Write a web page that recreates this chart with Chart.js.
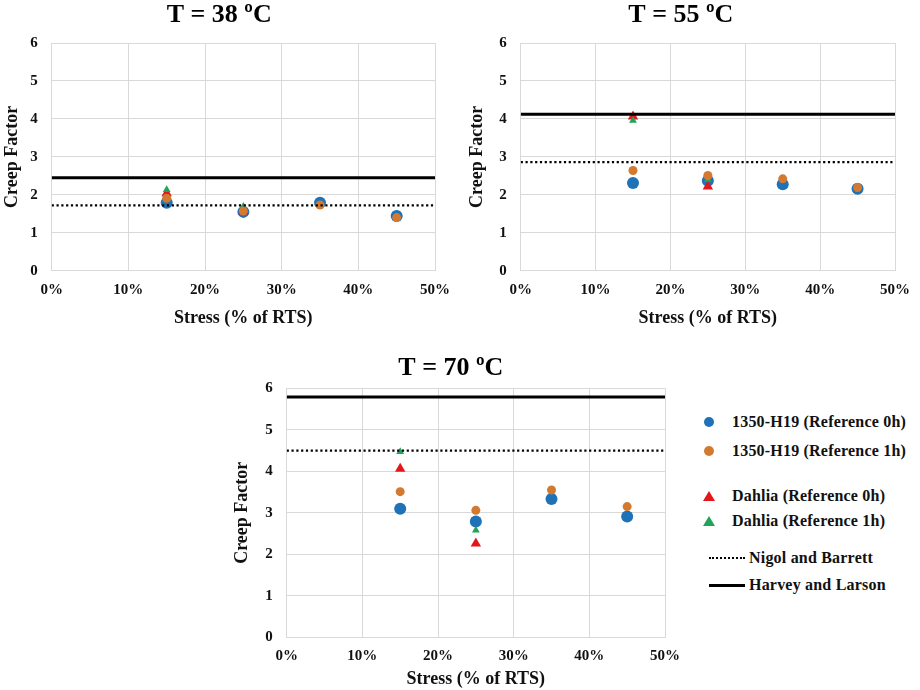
<!DOCTYPE html>
<html>
<head>
<meta charset="utf-8">
<script src="https://cdn.jsdelivr.net/npm/chart.js@4.4.1/dist/chart.umd.min.js"></script>
<style>
  body { margin: 0; background: #fff; width: 920px; height: 690px; position: relative; overflow: hidden; }
  canvas { position: absolute; }
  #legend { position: absolute; left: 0; top: 0; font-family: "Liberation Serif", "Times New Roman", serif; font-weight: bold; font-size: 16px; color: #111; }
  .item { position: absolute; white-space: nowrap; line-height: 18px; letter-spacing: 0.2px; }
  .dot { position: absolute; width: 10px; height: 10px; border-radius: 50%; }
  .tri { position: absolute; width: 0; height: 0; border-left: 6px solid transparent; border-right: 6px solid transparent; border-bottom: 10px solid; }
  .ln { position: absolute; width: 36px; height: 0; border-top: 2px dotted #000; }
</style>
</head>
<body>
<canvas id="c38" width="460" height="330" style="left:0;top:0"></canvas>
<canvas id="c55" width="460" height="330" style="left:460px;top:0"></canvas>
<canvas id="c70" width="460" height="350" style="left:230px;top:340px"></canvas>
<div id="legend"></div>

<script>
// ================== DATA ==================
const stress = [15, 25, 35, 45];          // % of RTS
const stressDahlia = [15, 25];
const xTicks = [0, 10, 20, 30, 40, 50];
const yTicks = [0, 1, 2, 3, 4, 5, 6];

const temps = ["T = 38 ºC", "T = 55 ºC", "T = 70 ºC"];

const h19Ref0h = [
  [1.79, 1.55, 1.79, 1.44],
  [2.31, 2.37, 2.28, 2.16],
  [3.10, 2.79, 3.33, 2.91]
];
const h19Ref1h = [
  [1.91, 1.57, 1.73, 1.40],
  [2.64, 2.51, 2.42, 2.19],
  [3.51, 3.06, 3.55, 3.15]
];
const dahliaRef0h = [
  [2.04, 1.56],
  [4.06, 2.22],
  [4.06, 2.26]
];
const dahliaRef1h = [
  [2.13, 1.69],
  [3.96, 2.40],
  [4.47, 2.58]
];
const nigolBarrett = [1.72, 2.86, 4.50];
const harveyLarson = [2.45, 4.12, 5.79];

const seriesNames = [
  "1350-H19 (Reference 0h)",
  "1350-H19 (Reference 1h)",
  "Dahlia (Reference 0h)",
  "Dahlia (Reference 1h)",
  "Nigol and Barrett",
  "Harvey and Larson"
];

const BLUE = "#1f71b8";
const ORANGE = "#d47a30";
const RED = "#e3161b";
const GREEN = "#22a35a";
const FONT = "'Liberation Serif', 'Times New Roman', serif";

// ================== LAYOUT (per chart) ==================
const layouts = [
  { id: "c38", yWidth: 51.7, yTitlePad: 2, xHeight: 59.3, xTitlePad: 1.2, titleTop: 2, titleBottom: 15, right: 21.7 },
  { id: "c55", yWidth: 60.7, yTitlePad: 7, xHeight: 59.3, xTitlePad: 1.2, titleTop: 2, titleBottom: 15, right: 18.3 },
  { id: "c70", yWidth: 56.7, yTitlePad: 1.5, xHeight: 52.7, xTitlePad: 0, titleTop: 15, titleBottom: 7.3, right: 18.3 }
];

function pts(xs, ys) {
  return ys.map((y, i) => ({ x: xs[i], y: y }));
}

function makeChart(k) {
  const L = layouts[k];
  const ctx = document.getElementById(L.id).getContext("2d");
  return new Chart(ctx, {
    type: "scatter",
    data: {
      datasets: [
        { label: seriesNames[3], data: pts(stressDahlia, dahliaRef1h[k]), pointStyle: "triangle", pointRadius: 4.5, backgroundColor: GREEN, borderColor: GREEN, borderWidth: 0, order: 3 },
        { label: seriesNames[2], data: pts(stressDahlia, dahliaRef0h[k]), pointStyle: "triangle", pointRadius: 6, backgroundColor: RED, borderColor: RED, borderWidth: 0, order: 4 },
        { label: seriesNames[1], data: pts(stress, h19Ref1h[k]), pointStyle: "circle", pointRadius: 4.5, backgroundColor: ORANGE, borderColor: ORANGE, borderWidth: 0, order: 2 },
        { label: seriesNames[0], data: pts(stress, h19Ref0h[k]), pointStyle: "circle", pointRadius: 6, backgroundColor: BLUE, borderColor: BLUE, borderWidth: 0, order: 5 },
        { label: seriesNames[4], type: "line", data: pts([xTicks[0], xTicks[5]], [nigolBarrett[k], nigolBarrett[k]]), borderColor: "#000", borderWidth: 2.2, borderDash: [2.2, 2.6], pointRadius: 0, order: 1 },
        { label: seriesNames[5], type: "line", data: pts([xTicks[0], xTicks[5]], [harveyLarson[k], harveyLarson[k]]), borderColor: "#000", borderWidth: 3, pointRadius: 0, order: 0 }
      ]
    },
    options: {
      responsive: false,
      animation: false,
      devicePixelRatio: 1,
      layout: { padding: { left: 0, right: L.right, top: 0, bottom: 0 } },
      plugins: {
        legend: { display: false },
        tooltip: { enabled: false },
        title: {
          display: true,
          text: temps[k],
          color: "#000",
          font: { family: FONT, size: 26, weight: "bold", lineHeight: 1 },
          padding: { top: L.titleTop, bottom: L.titleBottom }
        }
      },
      scales: {
        x: {
          type: "linear",
          min: xTicks[0],
          max: xTicks[xTicks.length - 1],
          afterFit: (s) => { s.height = L.xHeight; },
          afterBuildTicks: (s) => { s.ticks = xTicks.map(v => ({ value: v })); },
          ticks: { callback: v => v + "%", color: "#111", padding: 10, font: { family: FONT, size: 15, weight: "bold" } },
          grid: { color: "#d9d9d9", lineWidth: 1, drawTicks: false },
          border: { color: "#d9d9d9" },
          title: { display: true, text: "Stress (% of RTS)", color: "#111", padding: { top: 0, bottom: L.xTitlePad }, font: { family: FONT, size: 18, weight: "bold" } }
        },
        y: {
          min: yTicks[0],
          max: yTicks[yTicks.length - 1],
          afterFit: (s) => { s.width = L.yWidth; },
          afterBuildTicks: (s) => { s.ticks = yTicks.map(v => ({ value: v })); },
          ticks: { color: "#111", padding: 14, font: { family: FONT, size: 15, weight: "bold" } },
          grid: { color: "#d9d9d9", lineWidth: 1, drawTicks: false },
          border: { color: "#d9d9d9" },
          title: { display: true, text: "Creep Factor", color: "#111", padding: { top: L.yTitlePad, bottom: 0 }, font: { family: FONT, size: 18, weight: "bold" } }
        }
      }
    }
  });
}

// ================== LEGEND ==================
function renderLegend() {
  const el = document.getElementById("legend");
  const rows = [
    { y: 422, kind: "dot", color: BLUE },
    { y: 451, kind: "dot", color: ORANGE },
    { y: 496, kind: "tri", color: RED },
    { y: 521, kind: "tri", color: GREEN },
    { y: 558, kind: "dotted" },
    { y: 585, kind: "solid" }
  ];
  let html = "";
  rows.forEach((r, i) => {
    if (r.kind === "dot") {
      html += `<span class="dot" style="left:704px;top:${r.y - 5}px;background:${r.color}"></span>`;
      html += `<span class="item" style="left:732px;top:${r.y - 9}px">${seriesNames[i]}</span>`;
    } else if (r.kind === "tri") {
      html += `<span class="tri" style="left:703px;top:${r.y - 5}px;border-bottom-color:${r.color}"></span>`;
      html += `<span class="item" style="left:732px;top:${r.y - 9}px">${seriesNames[i]}</span>`;
    } else {
      const st = r.kind === "dotted" ? "border-top:2px dotted #000" : "border-top:3px solid #000";
      html += `<span class="ln" style="left:709px;top:${r.y - 1}px;${st}"></span>`;
      html += `<span class="item" style="left:749px;top:${r.y - 9}px">${seriesNames[i]}</span>`;
    }
  });
  el.innerHTML = html;
}

// ================== INIT ==================
temps.forEach((t, k) => makeChart(k));
renderLegend();
</script>
</body>
</html>
